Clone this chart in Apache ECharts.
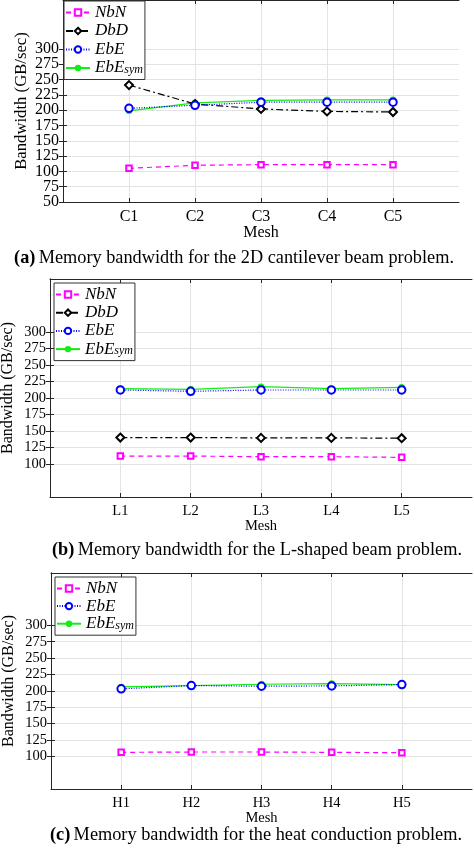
<!DOCTYPE html>
<html>
<head>
<meta charset="utf-8">
<script src="https://cdn.jsdelivr.net/npm/echarts@6/dist/echarts.min.js"></script>
<style>
    html, body { margin: 0; padding: 0; background: #fff; }
    #chart { width: 474px; height: 852px; }
</style>
</head>
<body>
<div id="chart"></div>
<script>
// 数据 (a) 2D cantilever beam
var meshA = ['C1', 'C2', 'C3', 'C4', 'C5'];
var nbnA = [105, 110, 111, 111, 111];
var dbdA = [241, 210, 202, 198, 197];
var ebeA = [203, 208, 213, 213, 213];
var symA = [199, 212, 216, 217, 217];

// (b) L-shaped beam
var meshB = ['L1', 'L2', 'L3', 'L4', 'L5'];
var nbnB = [112, 112, 111, 111, 110];
var dbdB = [140, 140, 139.5, 139.5, 139];
var ebeB = [212, 210, 212, 212, 212];
var symB = [214, 213, 217, 214, 216];

// (c) heat conduction
var meshC = ['H1', 'H2', 'H3', 'H4', 'H5'];
var nbnC = [106, 106.5, 106.5, 106, 105.5];
var ebeC = [203, 208, 207, 207.5, 209.5];
var symC = [206, 208, 210, 211, 209.5];

var ticksA = [50, 75, 100, 125, 150, 175, 200, 225, 250, 275, 300];
var ticksBC = [100, 125, 150, 175, 200, 225, 250, 275, 300];

(function () {
    var chart = echarts.init(document.getElementById('chart'));

    var SERIF = 'Liberation Serif';
    var AXIS_COLOR = '#262626';
    var GRID_COLOR = '#e3e3e3';

    var styles = {
        NbN: {color: '#ff00ff', symbol: 'emptyRect', size: 5.5, type: [5, 4]},
        DbD: {color: '#000000', symbol: 'emptyDiamond', size: 8, type: [7, 3, 2, 3]},
        EbE: {color: '#0000ff', symbol: 'emptyCircle', size: 7.5, type: [1, 1.5]},
        EbE_sym: {color: '#11ee11', symbol: 'circle', size: 6.5, type: 'solid'}
    };

    var panels = [
        {
            grid: {left: 63, right: 15, top: 0, height: 202},
            labels: meshA, ticks: ticksA,
            tickFont: 16, nameFont: 16.7, nameGap: 33, meshGap: 23,
            legend: {left: 64, top: 1, gap: 1.5},
            series: {NbN: nbnA, DbD: dbdA, EbE: ebeA, EbE_sym: symA}
        },
        {
            grid: {left: 50, right: 2, top: 279, height: 218},
            labels: meshB, ticks: ticksBC,
            tickFont: 14.5, nameFont: 16, nameGap: 34, meshGap: 22,
            legend: {left: 54, top: 283, gap: 1.2},
            series: {NbN: nbnB, DbD: dbdB, EbE: ebeB, EbE_sym: symB}
        },
        {
            grid: {left: 51, right: 2, top: 573, height: 216},
            labels: meshC, ticks: ticksBC,
            tickFont: 14.5, nameFont: 16, nameGap: 34, meshGap: 22,
            legend: {left: 55, top: 577, gap: 0.6},
            series: {NbN: nbnC, EbE: ebeC, EbE_sym: symC}
        }
    ];

    var grids = [], xAxes = [], yAxes = [], legends = [], series = [];

    function gridRect(g) {
        return {left: g.left, right: g.right, top: g.top, height: g.height, outerBoundsMode: 'none'};
    }

    panels.forEach(function (p) {
        var gi = grids.length;
        grids.push(gridRect(p.grid));
        // 叠在同一位置的第二个 grid, 只放奇数位的 y 刻度标签, 避免相邻标签被自动隐藏
        var gLabel = grids.length;
        grids.push(gridRect(p.grid));

        var evenTicks = p.ticks.filter(function (v, i) { return i % 2 === 0; });
        var oddTicks = p.ticks.filter(function (v, i) { return i % 2 === 1; });
        var yLabelRich = {t: {fontFamily: SERIF, fontSize: p.tickFont, color: '#000'}};
        var yLabelFmt = function (v) { return '{t|' + v + '}'; };

        var labels = p.labels;
        var xi = xAxes.length;
        xAxes.push({
            gridIndex: gi, type: 'value', min: 0, max: 6, interval: 1,
            name: 'Mesh', nameLocation: 'middle', nameGap: p.meshGap, nameMoveOverlap: false,
            nameTextStyle: {fontFamily: SERIF, fontSize: p.tickFont, color: '#000'},
            axisLine: {lineStyle: {color: AXIS_COLOR}},
            axisTick: {inside: true, length: 4, customValues: [1, 2, 3, 4, 5], lineStyle: {color: AXIS_COLOR}},
            axisLabel: {
                customValues: [1, 2, 3, 4, 5], margin: 7,
                fontFamily: SERIF, fontSize: p.tickFont, color: '#000',
                formatter: function (v) { return labels[v - 1] || ''; }
            },
            splitLine: {show: true, lineStyle: {color: GRID_COLOR}}
        });
        xAxes.push({
            gridIndex: gi, type: 'value', min: 0, max: 6, interval: 1, position: 'top',
            axisLine: {lineStyle: {color: AXIS_COLOR}},
            axisTick: {inside: true, length: 4, customValues: [1, 2, 3, 4, 5], lineStyle: {color: AXIS_COLOR}},
            axisLabel: {show: false},
            splitLine: {show: false}
        });
        xAxes.push({
            gridIndex: gLabel, type: 'value', min: 0, max: 6, show: false
        });

        var yi = yAxes.length;
        yAxes.push({
            gridIndex: gi, type: 'value', min: 50, max: 380, interval: 25, position: 'left',
            name: 'Bandwidth (GB/sec)', nameLocation: 'middle', nameGap: p.nameGap, nameMoveOverlap: false,
            nameTextStyle: {fontFamily: SERIF, fontSize: p.nameFont, color: '#000'},
            axisLine: {show: true, lineStyle: {color: AXIS_COLOR}},
            axisTick: {show: true, inside: true, length: 4, customValues: p.ticks, lineStyle: {color: AXIS_COLOR}},
            axisLabel: {
                customValues: evenTicks, margin: 4, showMinLabel: true, showMaxLabel: true,
                formatter: yLabelFmt, rich: yLabelRich
            },
            splitLine: {show: true, lineStyle: {color: GRID_COLOR}}
        });
        yAxes.push({
            gridIndex: gi, type: 'value', min: 50, max: 380, interval: 25, position: 'right',
            axisLine: {show: true, lineStyle: {color: AXIS_COLOR}},
            axisTick: {show: true, inside: true, length: 4, customValues: p.ticks, lineStyle: {color: AXIS_COLOR}},
            axisLabel: {show: false},
            splitLine: {show: false}
        });
        yAxes.push({
            gridIndex: gLabel, type: 'value', min: 50, max: 380, interval: 25, position: 'left',
            axisLine: {show: false},
            axisTick: {show: false},
            axisLabel: {
                customValues: oddTicks, margin: 4, showMinLabel: true, showMaxLabel: true,
                formatter: yLabelFmt, rich: yLabelRich
            },
            splitLine: {show: false}
        });

        var names = Object.keys(p.series);
        legends.push({
            left: p.legend.left, top: p.legend.top,
            orient: 'vertical',
            data: names,
            itemWidth: 24, itemHeight: 8, itemGap: p.legend.gap,
            padding: [3, 2, 3, 1],
            borderColor: '#333', borderWidth: 1, backgroundColor: '#fff',
            selectedMode: false,
            formatter: function (name) {
                return name === 'EbE_sym' ? '{i|EbE}{s|sym}' : '{i|' + name + '}';
            },
            textStyle: {
                rich: {
                    i: {fontFamily: SERIF, fontStyle: 'italic', fontSize: 17, color: '#000', lineHeight: 16},
                    s: {fontFamily: SERIF, fontStyle: 'italic', fontSize: 12, color: '#000', verticalAlign: 'bottom', lineHeight: 10}
                }
            }
        });

        names.forEach(function (n) {
            var st = styles[n];
            series.push({
                name: n, type: 'line',
                xAxisIndex: xi, yAxisIndex: yi,
                symbol: st.symbol, symbolSize: st.size,
                itemStyle: {color: st.color, borderWidth: 1.2},
                lineStyle: {color: st.color, width: 1.2, type: st.type},
                data: p.series[n].map(function (v, i) { return [i + 1, v]; }),
                animation: false,
                z: n === 'EbE_sym' ? 3 : 4
            });
        });
    });

    var captions = [
        {x: 234, y: 258, tag: '(a)', text: 'Memory bandwidth for the 2D cantilever beam problem.'},
        {x: 257, y: 550, tag: '(b)', text: 'Memory bandwidth for the L-shaped beam problem.'},
        {x: 256, y: 835, tag: '(c)', text: 'Memory bandwidth for the heat conduction problem.'}
    ];

    var option = {
        backgroundColor: '#fff',
        animation: false,
        grid: grids,
        xAxis: xAxes,
        yAxis: yAxes,
        legend: legends,
        series: series,
        graphic: captions.map(function (c) {
            return {
                type: 'text', x: c.x, y: c.y,
                style: {
                    text: '{b|' + c.tag + '} {n|' + c.text + '}',
                    align: 'center', verticalAlign: 'middle',
                    rich: {
                        b: {fontFamily: SERIF, fontWeight: 'bold', fontSize: 18.3, fill: '#000'},
                        n: {fontFamily: SERIF, fontSize: 18.3, fill: '#000'}
                    }
                }
            };
        })
    };

    chart.setOption(option);
})();
</script>
</body>
</html>
